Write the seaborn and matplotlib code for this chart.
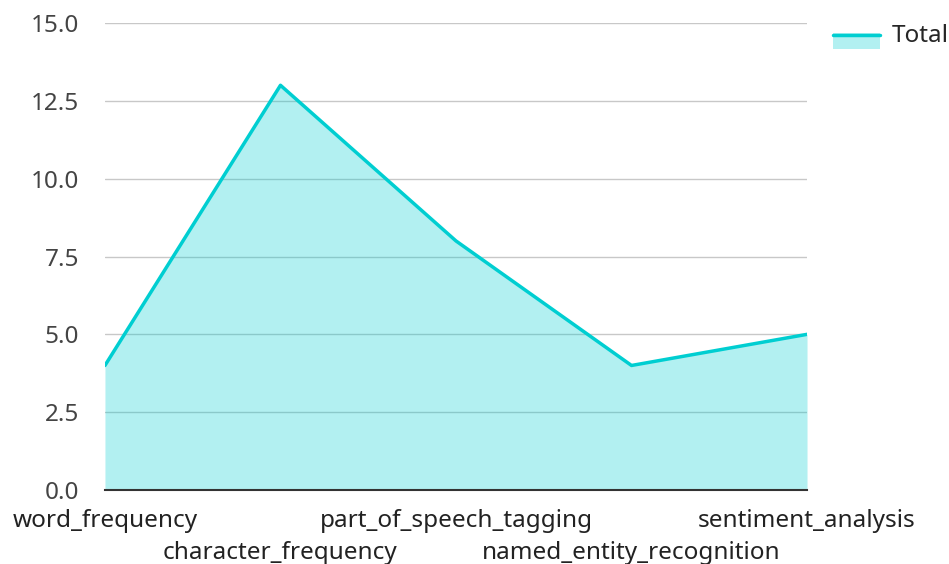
import matplotlib
matplotlib.use("Agg")
import matplotlib.pyplot as plt
import seaborn as sns
import pandas as pd
from matplotlib.patches import Rectangle
from matplotlib.lines import Line2D

LINE_COLOUR = "#00CED1"

tasks = [
    "word_frequency",
    "character_frequency",
    "part_of_speech_tagging",
    "named_entity_recognition",
    "sentiment_analysis",
]
totals = [4, 13, 8, 4, 5]
y_ticks = [0.0, 2.5, 5.0, 7.5, 10.0, 12.5, 15.0]


class AreaHandler:
    # legend key: light filled box with the line along its top edge
    def legend_artist(self, legend, orig_handle, fontsize, handlebox):
        x0, y0 = handlebox.xdescent, handlebox.ydescent
        w, h = handlebox.width, handlebox.height
        mid = y0 + h / 2
        tr = handlebox.get_transform()
        box = Rectangle((x0, mid - 11), w, 11, facecolor=LINE_COLOUR, alpha=0.3,
                        edgecolor="none", transform=tr)
        line = Line2D([x0, x0 + w], [mid - 1.5, mid - 1.5], color=LINE_COLOUR,
                      lw=2.5, transform=tr)
        handlebox.add_artist(box)
        handlebox.add_artist(line)
        return box


sns.set_style("white")
plt.rcParams["font.family"] = ["Noto Sans", "DejaVu Sans"]

df = pd.DataFrame({"task": tasks, "total": totals})
df["pos"] = range(len(df))

fig = plt.figure(figsize=(9.49, 5.64), dpi=100)
ax = fig.add_axes([0.1106, 0.1312, 0.7398, 0.828])

ax.fill_between(df["pos"], df["total"], 0, color=LINE_COLOUR, alpha=0.3,
                linewidth=0, zorder=2)
sns.lineplot(data=df, x="pos", y="total", color=LINE_COLOUR, linewidth=2.5,
             ax=ax, zorder=3)

ax.set_xlim(0, len(tasks) - 1)
ax.set_ylim(0, 15)
ax.set_yticks(y_ticks)
ax.set_yticklabels([f"{v:.1f}" for v in y_ticks])
ax.set_xticks(df["pos"])
ax.set_xticklabels(tasks)
ax.set(xlabel=None, ylabel=None)

ax.grid(axis="y", color="#c8c8c8", linewidth=1, zorder=1)
ax.set_axisbelow(True)
for side in ["top", "right", "left"]:
    ax.spines[side].set_visible(False)
ax.spines["bottom"].set_color("#333333")
ax.spines["bottom"].set_linewidth(1.5)
ax.spines["bottom"].set_zorder(4)

ax.tick_params(axis="y", length=0, pad=18.5, labelsize=17.5, labelcolor="#444444")
ax.tick_params(axis="x", length=0, pad=13.5, labelsize=17.5, labelcolor="#222222")

# stagger the category labels on two rows
for i, tick in enumerate(ax.xaxis.get_major_ticks()):
    if i % 2:
        tick.set_pad(13.5 + 23)

ax.legend(handles=[Rectangle((0, 0), 1, 1)], labels=["Total"],
          handler_map={Rectangle: AreaHandler()},
          loc="upper left", bbox_to_anchor=(1.0228, 1.019), borderaxespad=0,
          frameon=False, fontsize=17.5, handlelength=1.93, handletextpad=0.5)

fig.savefig("out.png", dpi=100)
